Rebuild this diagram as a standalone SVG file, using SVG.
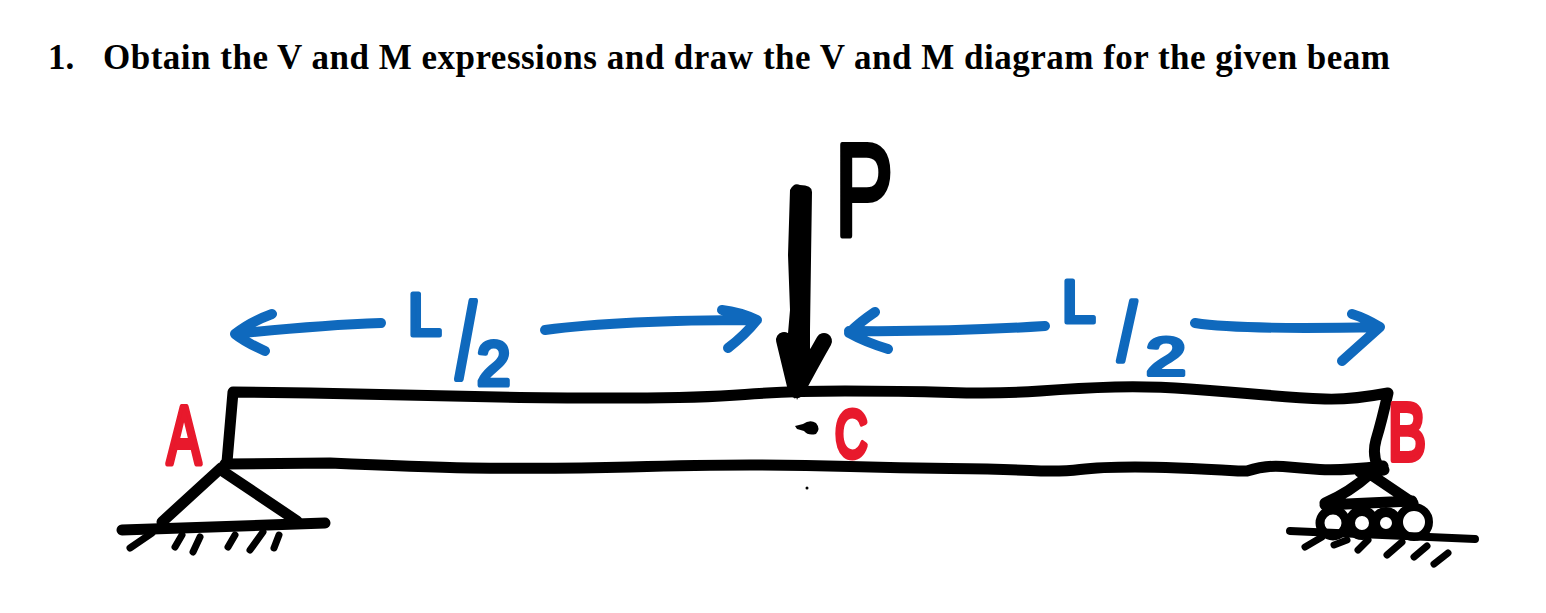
<svg xmlns="http://www.w3.org/2000/svg" width="1546" height="613" viewBox="0 0 1546 613">
<style>
.ln{fill:none;stroke:#000;stroke-linecap:round;stroke-linejoin:round}
.bl{fill:none;stroke:#0f69bd;stroke-width:10;stroke-linecap:round;stroke-linejoin:round}
.tt{font-family:"Liberation Serif",serif;font-weight:700;font-size:35px;fill:#000}
.hb{font-family:"Liberation Sans",Arial,sans-serif;font-size:60px;stroke-linejoin:round}
.ns{vector-effect:non-scaling-stroke}
.blt{fill:#0f69bd;stroke:#0f69bd;stroke-width:5}
.red{fill:#e8192c;stroke:#e8192c;stroke-width:5}
</style>
<rect width="1546" height="613" fill="#fff"/>
<g id="title"><text class="tt" x="48" y="69">1.</text><text class="tt" x="103" y="69" textLength="1287" lengthAdjust="spacing">Obtain the V and M expressions and draw the V and M diagram for the given beam</text></g>
<g id="beam">
<path class="ln" stroke-width="11" d="M227 462L233 392L310 393Q480 397 520 397.500Q560 398 630 398Q700 398 745 394.500Q790 391 845 391Q900 391 950 392.500Q1000 394 1040 391Q1080 388 1115 387Q1150 386 1190 389Q1230 392 1265 395Q1300 398 1325 399Q1350 400 1388 393Q1382 420 1376 440Q1372 455 1378 466"/>
<path class="ln" stroke-width="11" d="M225 464L330 463Q420 467 470 468Q560 469 630 467Q700 465 750 465Q800 465 850 466.500Q900 468 950 468.500Q1000 469 1030 470.500Q1060 472 1080 469.500Q1100 467 1135 467Q1170 467 1238 471L1247 471Q1265 465 1283 466.500Q1300 468 1320 469.500Q1340 471 1383 466"/>
</g>
<g id="support-a">
<path class="ln" stroke-width="11" d="M221 468L162 522M224 472L297 521"/>
<path class="ln" stroke-width="11" d="M122 530L325 523"/>
<path class="ln" stroke-width="7" d="M130 548L152 533M175 547L182 535M193 552L200 537M228 547L235 535M250 550L263 532M274 548L279 535"/>
</g>
<g id="support-b">
<path class="ln" stroke-width="11" d="M1370 474Q1350 492 1325 503M1370 474L1413 503M1325 505L1412 501M1360 472L1384 470"/>
<circle cx="1333" cy="523" r="13" fill="none" stroke="#000" stroke-width="9"/>
<circle cx="1362" cy="523" r="12" fill="none" stroke="#000" stroke-width="10"/>
<circle cx="1386" cy="523" r="11" fill="none" stroke="#000" stroke-width="10"/>
<circle cx="1414" cy="522" r="15" fill="none" stroke="#000" stroke-width="8"/>
<path class="ln" stroke-width="8" d="M1290 531L1475 539"/>
<path class="ln" stroke-width="7" d="M1305 547L1322 537M1334 545L1347 540M1358 550L1368 540M1387 555L1402 542M1414 557L1427 546M1434 564L1448 553"/>
</g>
<g id="load-p">
<path fill="#000" d="M790 190Q794 182 800 185Q812 185 812 192L811 260L810 330L810 352L795 399L790 390L787 345L790 310L788 255Z"/>
<path class="ln" stroke-width="16" d="M784 340L796 390M824 341Q812 362 797 390"/>
<path fill="#000" d="M782 345L820 350L797 400Z"/>
<text class="hb ns" transform="translate(835 235) scale(1.45 2.2)" fill="#000" stroke="#000" stroke-width="5" style="vector-effect:non-scaling-stroke">P</text>
</g>
<g id="dimensions">
<path class="bl" d="M381 323Q320 325 235 334M272 314Q250 322 235 334Q245 342 265 351"/>
<path class="bl" d="M545 330Q620 320 755 320M722 310Q740 312 757 320Q745 335 728 348"/>
<path class="bl" d="M1045 326Q950 332 849 331M875 312Q860 322 849 333Q865 342 888 349"/>
<path class="bl" d="M1195 323Q1240 330 1380 327M1352 314Q1365 318 1380 327Q1360 345 1342 361"/>
<text class="hb blt ns" transform="translate(408 335)">L</text>
<text class="hb blt ns" transform="translate(456 378) scale(1.2 1.75)">/</text>
<text class="hb blt ns" transform="translate(477 385) scale(1 1.05)">2</text>
<text class="hb blt ns" transform="translate(1062 322)">L</text>
<text class="hb blt ns" transform="translate(1118 360) scale(1.1 1.35)">/</text>
<text class="hb blt ns" transform="translate(1146 375) scale(1.2 .88)">2</text>
</g>
<g id="labels">
<text class="hb red ns" transform="translate(167 463) scale(.85 1.35)">A</text>
<text class="hb red ns" transform="translate(1388 460) scale(.95 1.35)">B</text>
<text class="hb red ns" transform="translate(835 457) scale(.75 1.12)">C</text>
<path fill="#000" d="M795 426L803 424Q810 419 816 423Q821 429 816 434Q808 436 804 431L797 429Z"/>
<circle cx="807" cy="488" r="1.500" fill="#000"/>
</g>
</svg>
